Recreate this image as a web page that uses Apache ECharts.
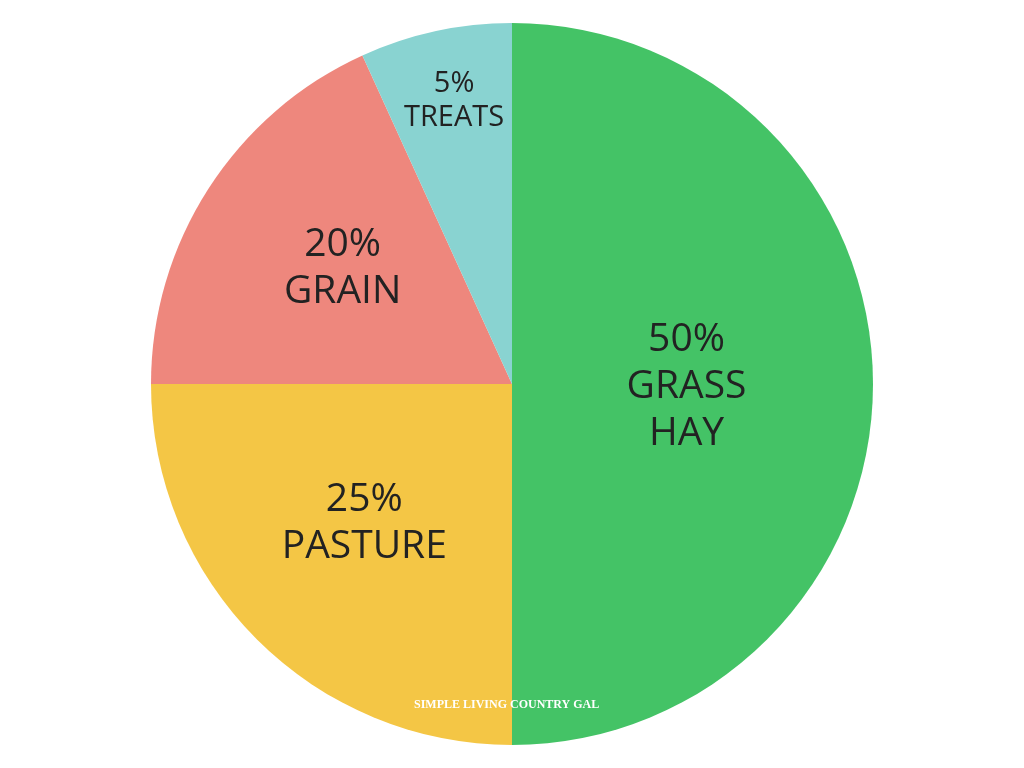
<!DOCTYPE html>
<html>
<head>
<meta charset="utf-8">
<title>Feed pie</title>
<script src="https://cdn.jsdelivr.net/npm/echarts@6/dist/echarts.min.js"></script>
<style>
  html, body { margin: 0; padding: 0; background: #fff; }
  #chart { width: 1024px; height: 768px; }
</style>
</head>
<body>
<div id="chart"></div>
<script>
// slices, clockwise from 12 o'clock
const names = ['GRASS\nHAY', 'PASTURE', 'GRAIN', 'TREATS'];
const labelPct = ['50%', '25%', '20%', '5%'];
// slice sizes as drawn in the picture (treats wedge is drawn a bit wider than 5%)
const sliceSizes = [50, 25, 18.2, 6.8];
const colors = ['#44c366', '#f4c645', '#ee877d', '#89d3d1'];
// nudges for the inside labels (px)
const labelShift = [[-9, 3], [-18, 10], [-15, -16], [-19, -104]];

const chart = echarts.init(document.getElementById('chart'), null, {renderer: 'canvas'});

chart.setOption({
  animation: false,
  series: [{
    type: 'pie',
    center: [512, 384],
    radius: 361,
    startAngle: 90,
    clockwise: true,
    itemStyle: {borderWidth: 0},
    label: {
      show: true,
      position: 'inside',
      formatter: (p) => labelPct[p.dataIndex] + '\n' + p.name,
      fontFamily: '"Open Sans", "Noto Sans", sans-serif',
      fontSize: 39,
      lineHeight: 47,
      color: '#222222'
    },
    labelLayout: (p) => ({dx: labelShift[p.dataIndex][0], dy: labelShift[p.dataIndex][1]}),
    emphasis: {disabled: true},
    data: names.map((n, i) => {
      const item = {name: n, value: sliceSizes[i], itemStyle: {color: colors[i]}};
      if (i === 3) item.label = {fontSize: 29, lineHeight: 34};
      return item;
    })
  }],
  graphic: [{
    type: 'text',
    z: 100,
    left: 414,
    top: 699,
    style: {
      text: 'SIMPLE LIVING COUNTRY GAL',
      fill: '#ffffff',
      font: 'bold 12px "Liberation Serif", serif'
    }
  }]
});
</script>
</body>
</html>
